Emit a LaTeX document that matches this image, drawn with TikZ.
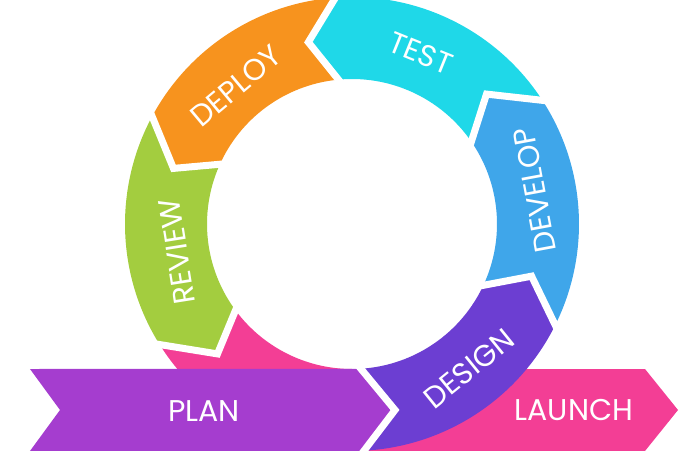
\documentclass[tikz,border=0pt]{standalone}
\usepackage{fontspec}
\setmainfont{Poppins}
\tikzset{>=latex}
\definecolor{myplan}{RGB}{165,61,207}
\definecolor{mydesign}{RGB}{108,62,210}
\definecolor{mydevelop}{RGB}{63,166,234}
\definecolor{mytest}{RGB}{31,216,232}
\definecolor{mydeploy}{RGB}{247,147,30}
\definecolor{myreview}{RGB}{163,205,63}
\definecolor{mylaunch}{RGB}{243,62,149}
\tikzset{
  txt/.style={text=white,font=\fontsize{30}{30}\selectfont,inner sep=0pt},
  whitegap/.style={draw=white,line width=7pt,line join=miter},
}
% ring piece: colour, start (outer, tip, inner), end (outer, tip, inner)
\def\ringpiece#1#2#3#4#5#6#7{\fill[#1] (#2:\rout) arc[start angle=#2, end angle=#5, radius=\rout] -- (#6:\rtip) -- (#7:\rin) arc[start angle=#7, end angle=#4, radius=\rin] -- (#3:\rtip) -- cycle}
\def\ringcut#1#2#3{\draw[whitegap] (#1:{\rout+5}) -- (#2:\rtip) -- (#3:{\rin-5})}

\begin{document}
\begin{tikzpicture}[x=1pt,y=1pt]

  % define to change easily
  \def\rout{227}
  \def\rin{145}
  \def\rtip{187}
  \useasboundingbox (-352,-226) rectangle (336,224);

  % launch band (behind)
  \fill[mylaunch]
    (211:\rout) -- (224:\rtip) -- (215.3:\rin)
    arc[start angle=215.3, end angle=270, radius=\rin]
    -- (293,-145) -- (326,-186) -- (293,-227) -- (270:\rout)
    arc[start angle=270, end angle=211, radius=\rout] -- cycle;

  % plan band
  \fill[myplan]
    (-322,-145) -- (272:\rin) -- (43,-186) -- (272:\rout)
    -- (-322,-227) -- (-292,-186) -- cycle;

  % ring
  \fill[mydesign]
    (272:\rin) -- (43,-186) -- (272:\rout)
    arc[start angle=272, end angle=332.6, radius=\rout]
    -- (343.8:\rtip) -- (333.5:\rin)
    arc[start angle=333.5, end angle=272, radius=\rin] -- cycle;
  \ringpiece{mydevelop}{-27.4}{-16.2}{-26.5}{32}{44}{33};
  \ringpiece{mytest}{32}{44}{33}{93.3}{103.5}{94};
  \ringpiece{mydeploy}{93.3}{103.5}{94}{150.7}{162.7}{154.5};
  \ringpiece{myreview}{150.7}{162.7}{154.5}{211}{224}{215.3};

  % white cuts
  \ringcut{-27.4}{-16.2}{-26.5};
  \ringcut{32}{44}{33};
  \ringcut{93.3}{103.5}{94};
  \ringcut{150.7}{162.7}{154.5};
  \ringcut{211}{224}{215.3};
  \draw[whitegap] (272:140) -- (43,-186) -- (272:232);

  % labels
  \node[txt] (plan) at (-148,-187) {PLAN};
  \node[txt] (launch) at (222,-186) {LAUNCH};
  \node[txt,rotate=39] (design) at (-51:186) {DESIGN};
  \node[txt,rotate=100.5] (develop) at (10.5:186) {DEVELOP};
  \node[txt,rotate=-22] (test) at (68:184) {TEST};
  \node[txt,rotate=40] (deploy) at (130:180) {DEPLOY};
  \node[txt,rotate=99] (review) at (189:177) {REVIEW};

\end{tikzpicture}
\end{document}
